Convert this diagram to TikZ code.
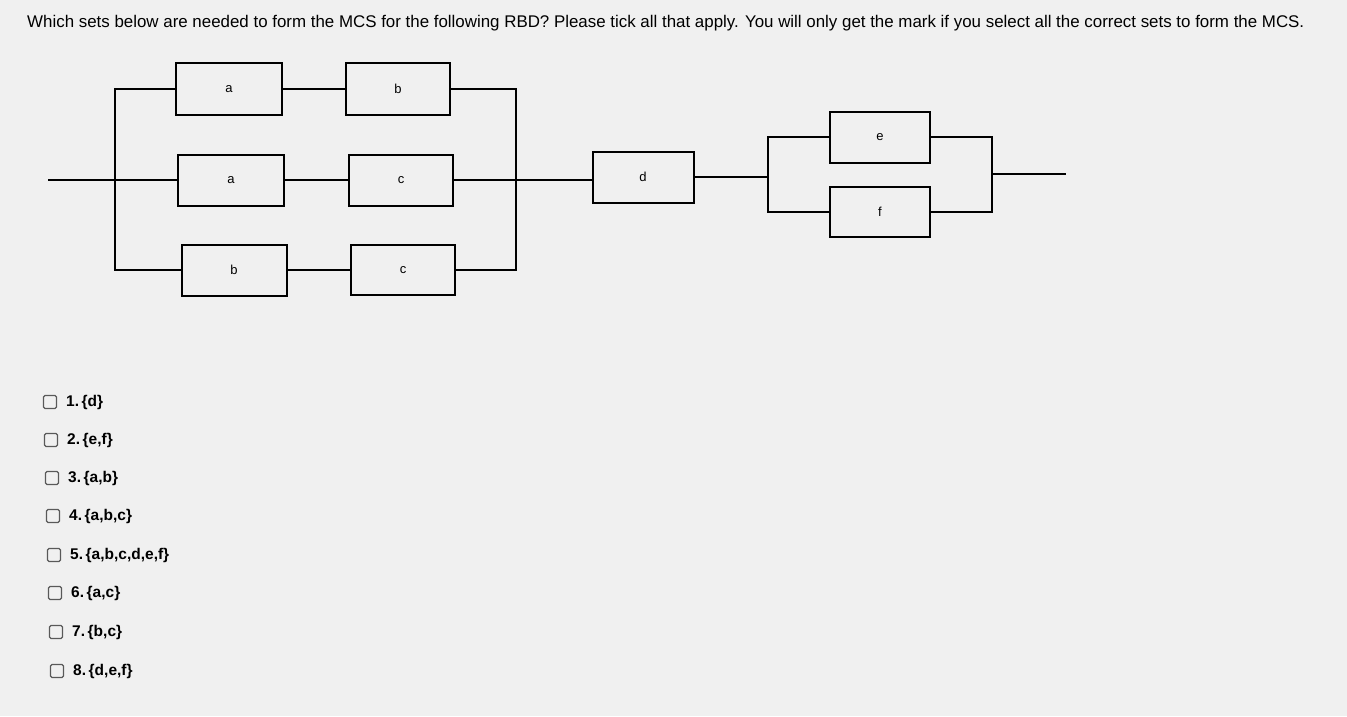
\documentclass[tikz,border=0pt]{standalone}
\usepackage{fontspec}
\setmainfont{Liberation Sans}
\begin{document}
\begin{tikzpicture}[x=1pt,y=-1pt,
  blk/.style={draw,line width=2pt,inner sep=0pt,font=\fontsize{13}{15}\selectfont},
  wire/.style={line width=2pt},
  chk/.style={draw=black!65,line width=1.2pt,minimum size=13pt,inner sep=0pt,rounded corners=1.5pt},
  opt/.style={anchor=west,font=\bfseries\fontsize{15.5}{17}\selectfont,inner sep=0pt}]
\fill[gray!12] (0,0) rectangle (1347,716);
\useasboundingbox (0,0) rectangle (1347,716);
\node[anchor=west,font=\fontsize{16.9}{19}\selectfont,inner sep=0pt] (title) at (27,23) {Which sets below are needed to form the MCS for the following RBD? Please tick all that apply. You will only get the mark if you select all the correct sets to form the MCS.};
\newcommand\bx[6]{\node[blk,minimum width=#4pt,minimum height=#5pt] (#1) at (#2,#3) {#6};}
\bx{a1}{229}{89}{106}{52}{a}
\bx{b1}{398}{89}{104}{52}{b}
\bx{a2}{231}{180}{106}{51}{a}
\bx{c2}{401}{180}{104}{51}{c}
\bx{b3}{234}{270}{105}{51}{b}
\bx{c3}{403}{270}{104}{50}{c}
\bx{d}{643}{177}{101}{51}{d}
\bx{e}{880}{137}{100}{51}{e}
\bx{f}{880}{212}{100}{50}{f}
\coordinate (in) at (48,180);
\coordinate (lb) at (115,0);
\coordinate (rb) at (516,0);
\coordinate (el) at (768,0);
\coordinate (er) at (992,0);
\coordinate (out) at (1066,174);
\draw[wire] (in) -- (a2.west);
\draw[wire] (a1.west) -- (a1.west -| lb) -- (b3.west -| lb) -- (b3.west);
\draw[wire] (a1.east) -- (b1.west);
\draw[wire] (a2.east) -- (c2.west);
\draw[wire] (b3.east) -- (c3.west);
\draw[wire] (b1.east) -- (b1.east -| rb) -- (c3.east -| rb) -- (c3.east);
\draw[wire] (c2.east) -- (c2.east -| d.west);
\draw[wire] (d.east) -- (d.east -| el);
\draw[wire] (e.west) -- (e.west -| el) -- (f.west -| el) -- (f.west);
\draw[wire] (e.east) -- (e.east -| er) -- (f.east -| er) -- (f.east);
\draw[wire] (out -| er) -- (out);
\foreach \i/\x/\y/\t in {1/50/402/{1.\,\{d\}},2/51/440/{2.\,\{e,f\}},3/52/478/{3.\,\{a,b\}},4/53/516/{4.\,\{a,b,c\}},5/54/555/{5.\,\{a,b,c,d,e,f\}},6/55/593/{6.\,\{a,c\}},7/56/632/{7.\,\{b,c\}},8/57/671/{8.\,\{d,e,f\}}}{
  \node[chk] (k\i) at (\x,\y) {};
  \node[opt] (o\i) at (\x+16,\y) {\t};
}
\end{tikzpicture}
\end{document}
